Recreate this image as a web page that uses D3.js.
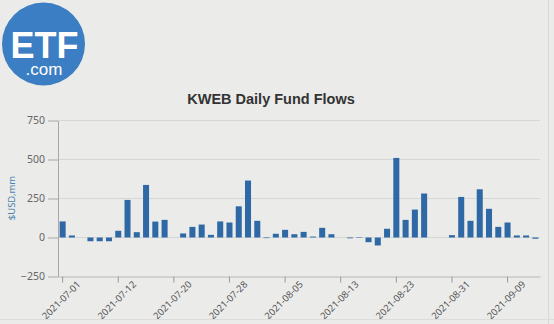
<!DOCTYPE html>
<html><head><meta charset="utf-8">
<script src="https://cdn.jsdelivr.net/npm/d3@7"></script>
<style>
html,body{margin:0;padding:0;background:#ebebea;}
svg{display:block;}
</style></head>
<body>
<svg id="chart" width="554" height="324"></svg>
<script>
const dates = ["2021-07-01","2021-07-02","2021-07-06","2021-07-07","2021-07-08","2021-07-09",
"2021-07-12","2021-07-13","2021-07-14","2021-07-15","2021-07-16","2021-07-19",
"2021-07-20","2021-07-21","2021-07-22","2021-07-23","2021-07-26","2021-07-27",
"2021-07-28","2021-07-29","2021-07-30","2021-08-02","2021-08-03","2021-08-04",
"2021-08-05","2021-08-06","2021-08-09","2021-08-10","2021-08-11","2021-08-12",
"2021-08-13","2021-08-16","2021-08-17","2021-08-18","2021-08-19","2021-08-20",
"2021-08-23","2021-08-24","2021-08-25","2021-08-26","2021-08-27","2021-08-30",
"2021-08-31","2021-09-01","2021-09-02","2021-09-03","2021-09-07","2021-09-08",
"2021-09-09","2021-09-10","2021-09-13","2021-09-14"];
const flows = [103,13,0,-24,-24,-24,
43,241,34,337,102,113,
0,26,68,83,17,103,
96,200,365,107,-4,24,
49,21,36,6,62,21,
0,-5,-3,-30,-51,56,
510,113,179,282,0,0,
15,260,107,309,184,68,
96,13,13,-8];
const tickDates = ["2021-07-01","2021-07-12","2021-07-20","2021-07-28","2021-08-05","2021-08-13","2021-08-23","2021-08-31","2021-09-09"];
const yTicks = [-250,0,250,500,750];
const title = "KWEB Daily Fund Flows";
const yLabel = "$USD,mm";

const svg = d3.select("#chart");
const M = {left:58, right:540, top:120.5, bottom:276.5};

// logo
const logo = svg.append("g");
logo.append("circle").attr("cx",43.5).attr("cy",44).attr("r",41.5).attr("fill","#3c7ec3");
logo.append("text").attr("x",44.5).attr("y",58).attr("text-anchor","middle")
  .attr("font-family","Liberation Sans, Arial, sans-serif").attr("font-weight","bold")
  .attr("font-size",36).attr("fill","#fff").text("ETF");
logo.append("text").attr("x",44).attr("y",74.5).attr("text-anchor","middle")
  .attr("font-family","Liberation Sans, Arial, sans-serif")
  .attr("font-size",17).attr("fill","#fff").text(".com");

// title
svg.append("text").attr("x",271).attr("y",103.5).attr("text-anchor","middle")
  .attr("font-family","Liberation Sans, Arial, sans-serif").attr("font-weight","bold")
  .attr("font-size",14.5).attr("fill","#333").text(title);

const x = d3.scaleBand().domain(dates).range([M.left, M.right]).paddingInner(0.35).paddingOuter(0.175);
const y = d3.scaleLinear().domain([-250,750]).range([M.bottom, M.top]);

// gridlines
svg.append("g").selectAll("line").data(yTicks.filter(d=>d!==-250)).join("line")
  .attr("x1",M.left).attr("x2",M.right).attr("y1",d=>y(d)).attr("y2",d=>y(d))
  .attr("stroke","#d6d6d6").attr("stroke-width",1);

// bars
svg.append("g").selectAll("rect").data(dates.map((d,i)=>({d, v:flows[i]}))).join("rect")
  .attr("x",d=>x(d.d)).attr("width",x.bandwidth())
  .attr("y",d=>y(Math.max(0,d.v))).attr("height",d=>Math.abs(y(d.v)-y(0)))
  .attr("fill","#2e69a5");

// y axis
const yAxis = svg.append("g").attr("transform",`translate(${M.left},0)`)
  .call(d3.axisLeft(y).tickValues(yTicks).tickSize(10).tickPadding(3).tickSizeOuter(0));
yAxis.select(".domain").attr("stroke","#a8a8a8");
yAxis.selectAll(".tick line").attr("stroke","#a8a8a8");
yAxis.selectAll("text").attr("font-family","Noto Sans, sans-serif").attr("font-size",10.5).attr("fill","#666");

// x axis
const xAxis = svg.append("g").attr("transform",`translate(0,${M.bottom})`)
  .call(d3.axisBottom(x).tickValues(tickDates).tickSize(6).tickSizeOuter(0));
xAxis.select(".domain").attr("stroke","#b8b8b8");
xAxis.selectAll(".tick line").attr("stroke","#999");
xAxis.selectAll("text")
  .attr("font-family","Noto Sans, sans-serif").attr("font-size",9.5).attr("fill","#555")
  .attr("text-anchor","middle").attr("dy",0).attr("y",0)
  .attr("transform","translate(1,26) rotate(-45)");

// y label
svg.append("text").attr("transform","translate(15,198) rotate(-90)").attr("text-anchor","middle")
  .attr("font-family","Noto Sans, sans-serif").attr("font-size",9.5).attr("fill","#4a82ad").text(yLabel);

// right frame
svg.append("line").attr("x1",548.5).attr("x2",548.5).attr("y1",0).attr("y2",324).attr("stroke","#d9d9d9");
svg.append("line").attr("x1",0).attr("x2",554).attr("y1",319.5).attr("y2",319.5).attr("stroke","#dcdcdc");
</script>
</body></html>
